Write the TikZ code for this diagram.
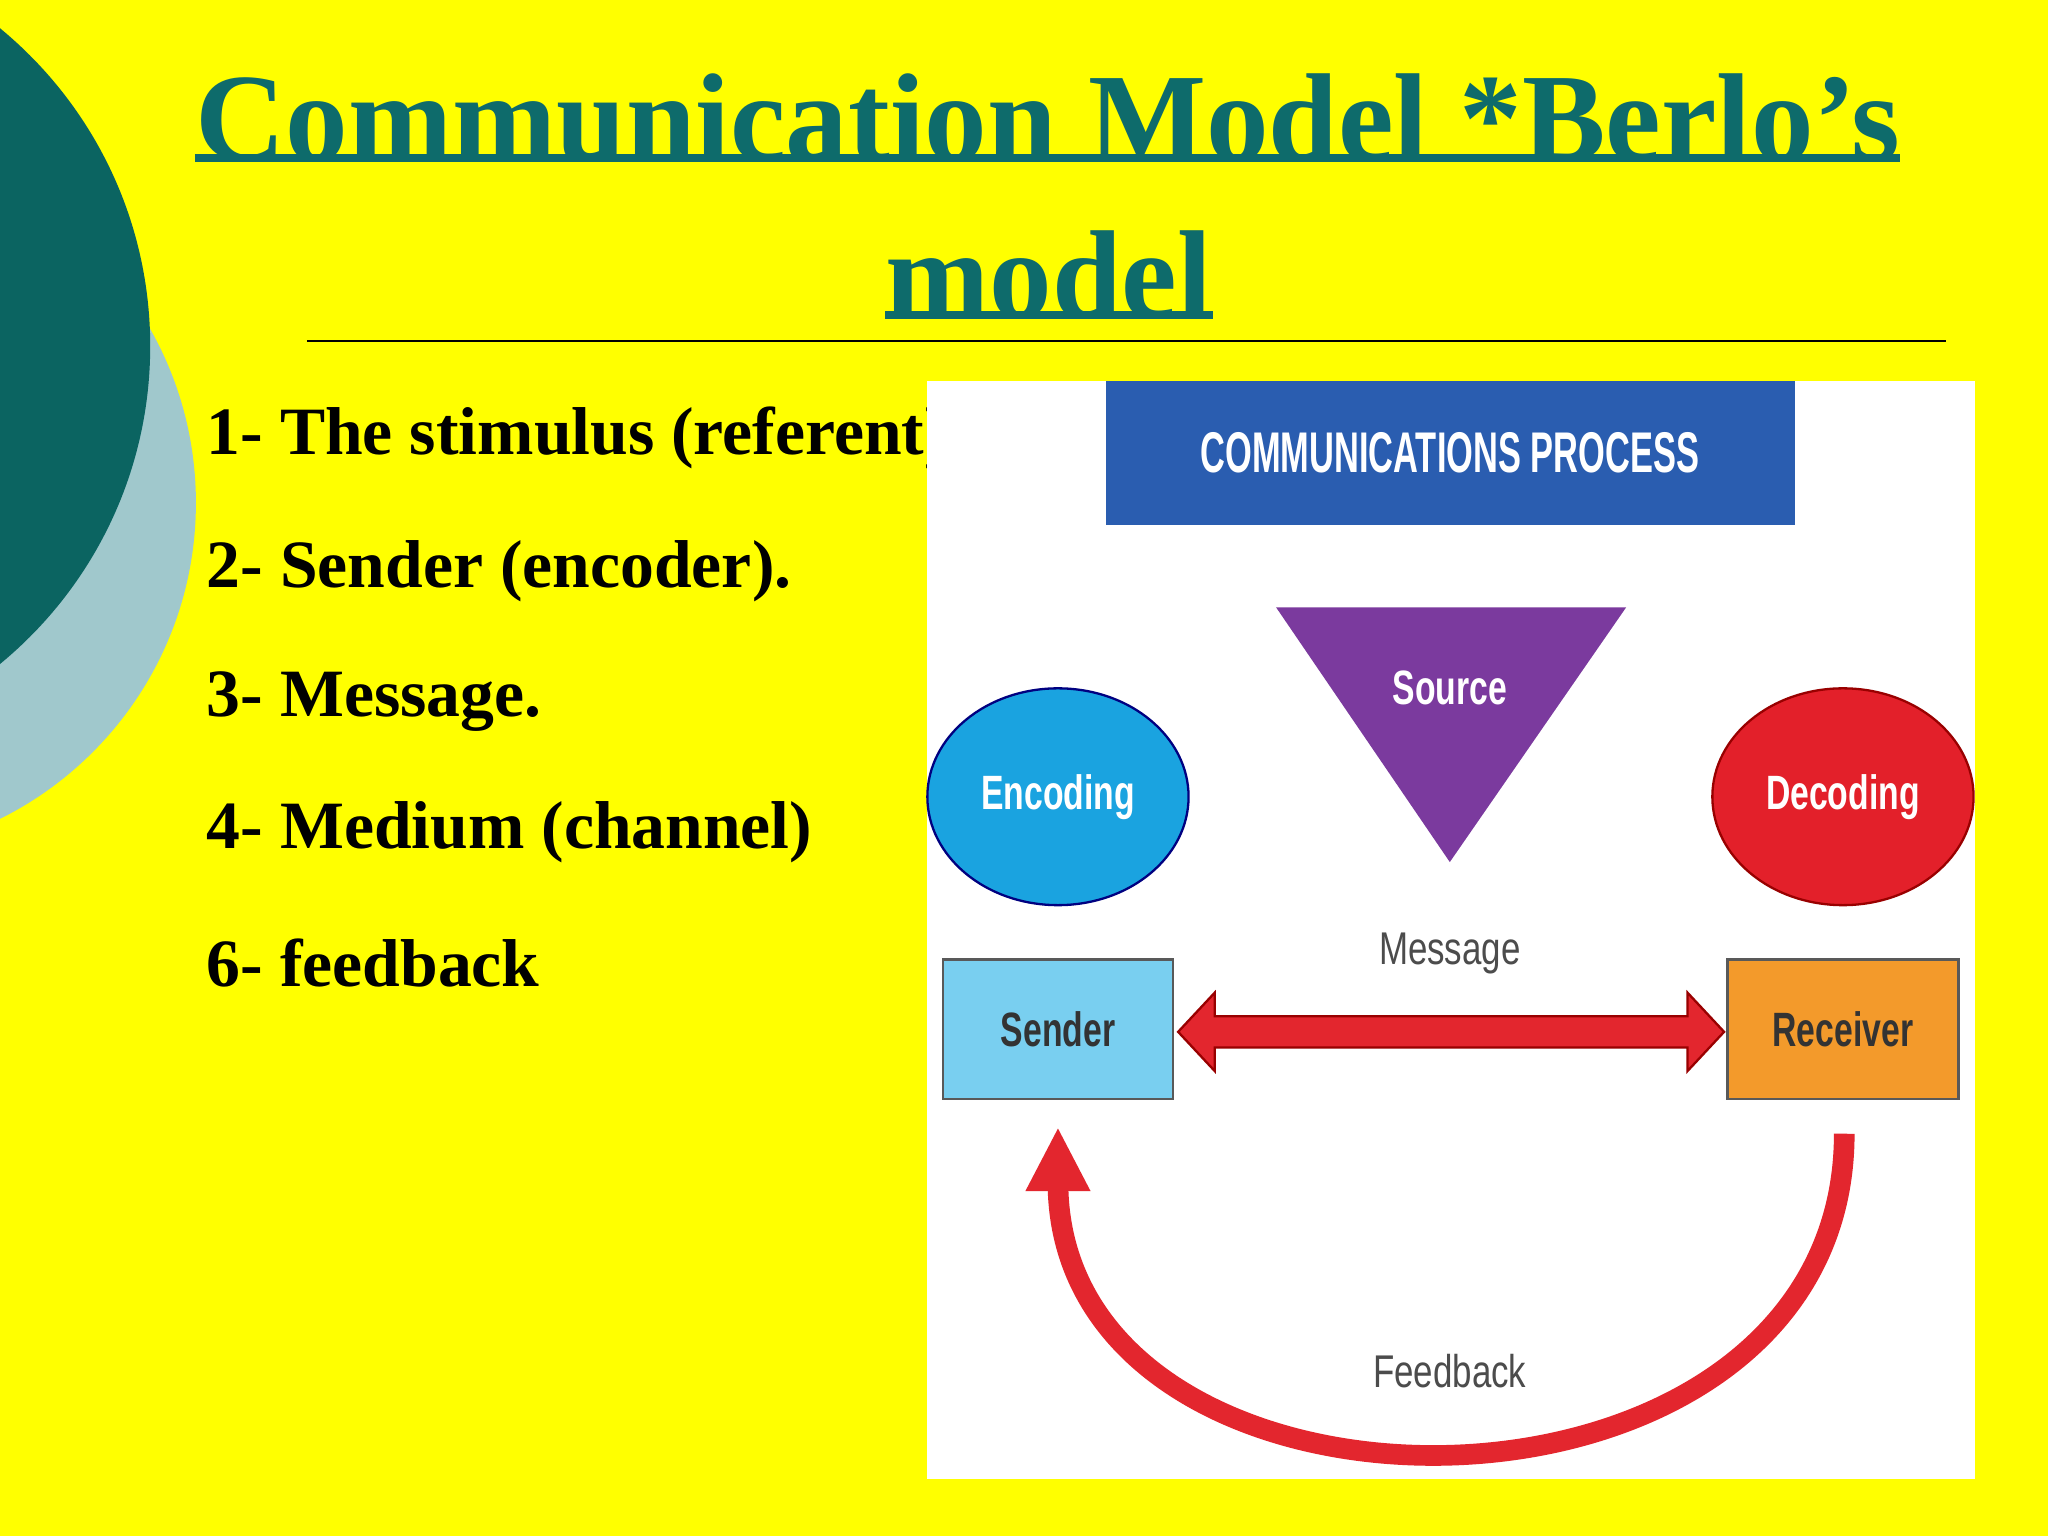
\documentclass[tikz,border=0pt]{standalone}
\usepackage{fontspec}
\setmainfont{Liberation Serif}
\newfontfamily\lsans{Liberation Sans}
\definecolor{bgy}{HTML}{FFFF00}
\definecolor{teal1}{HTML}{0B6461}
\definecolor{teal2}{HTML}{0E6B6B}
\definecolor{lblue}{HTML}{A0C8CC}
\definecolor{pblue}{HTML}{2A5DB0}
\definecolor{purp}{HTML}{7B3A9E}
\definecolor{encb}{HTML}{1AA3E0}
\definecolor{decr}{HTML}{E3202A}
\definecolor{sendb}{HTML}{79CFF0}
\definecolor{recvo}{HTML}{F39A2B}
\definecolor{arr}{HTML}{E3262E}
\begin{document}
\begin{tikzpicture}[x=0.02cm,y=-0.02cm,
  item/.style={anchor=west,inner sep=0pt,font=\fontsize{29.5}{36}\selectfont\bfseries},
  lab/.style={font=\lsans\fontsize{21}{24}\selectfont\bfseries,text=white,xscale=0.7},
  ttl/.style={text=teal2,inner sep=0pt,font=\fontsize{54.5}{60}\selectfont\bfseries},
  ul/.style={teal2,line width=3.5pt},
  boxs/.style={draw=gray!70!black,line width=1pt}]
\useasboundingbox (0,0) rectangle (1568,1176);
\fill[bgy] (0,0) rectangle (1568,1176);
\begin{scope}
\clip (0,0) rectangle (1568,1176);
\fill[lblue] (-120,385) circle (270);
\fill[teal1] (-200,265) circle (315);
\end{scope}
\node[ttl] (t1) at (802,90) {Communication Model *Berlo’s};
\draw[ul] (t1.south west) ++(0,-3) -- ([yshift=3*0.02cm]t1.south east);
\node[ttl] (t2) at (803,210) {model};
\draw[ul] (t2.south west) ++(0,-3) -- ([yshift=3*0.02cm]t2.south east);
\draw[line width=1.2pt] (235,261) -- (1490,261);
\node[item] (i1) at (158,335) {1- The stimulus (referent)};
\node[item] (i2) at (158,437) {2- Sender (encoder).};
\node[item] (i3) at (158,537) {3- Message.};
\node[item] (i4) at (158,637) {4- Medium (channel)};
\node[item] (i5) at (158,737) {6- feedback};
% panel
\fill[white] (710,292) rectangle (1512,1132);
\fill[pblue] (847,292) rectangle (1374,402);
\node[lab,font=\lsans\fontsize{25}{28}\selectfont\bfseries,xscale=0.6/0.7] (cp) at (1110,347) {COMMUNICATIONS PROCESS};
\fill[purp] (977,465) -- (1245,465) -- (1110,660) -- cycle;
\node[lab] (src) at (1110,527) {Source};
\draw[fill=encb,draw=blue!50!black,line width=1pt] (810,610) ellipse [x radius=100,y radius=83];
\node[lab] (enc) at (810,610) {Encoding};
\draw[fill=decr,draw=red!60!black,line width=1pt] (1411,610) ellipse [x radius=100,y radius=83];
\node[lab] (dec) at (1411,610) {Decoding};
\node[boxs,fill=sendb,minimum width=176*0.02cm,minimum height=107*0.02cm,font=\lsans\fontsize{21}{24}\selectfont\bfseries,text=black!80] (snd) at (810,788) {\scalebox{0.7}[1]{Sender}};
\node[boxs,fill=recvo,minimum width=177*0.02cm,minimum height=107*0.02cm,font=\lsans\fontsize{21}{24}\selectfont\bfseries,text=black!80] (rcv) at (1411,788) {\scalebox{0.7}[1]{Receiver}};
\node[font=\lsans\fontsize{20}{24}\selectfont,text=black!70,xscale=0.76] (msg) at (1110,730) {Message};
\draw[fill=arr,draw=red!60!black,line width=1pt] (902,790) -- (930,760) -- (930,778) -- (1292,778) -- (1292,760) -- (1320,790) -- (1292,820) -- (1292,802) -- (930,802) -- (930,820) -- cycle;
\draw[arr,line width=9pt] (1412,868) .. controls (1412,1190) and (810,1190) .. (810,905);
\fill[arr] (785,912) -- (810,864) -- (835,912) -- cycle;
\node[font=\lsans\fontsize{20}{24}\selectfont,text=black!70,xscale=0.76] (fb) at (1110,1050) {Feedback};
\end{tikzpicture}
\end{document}
